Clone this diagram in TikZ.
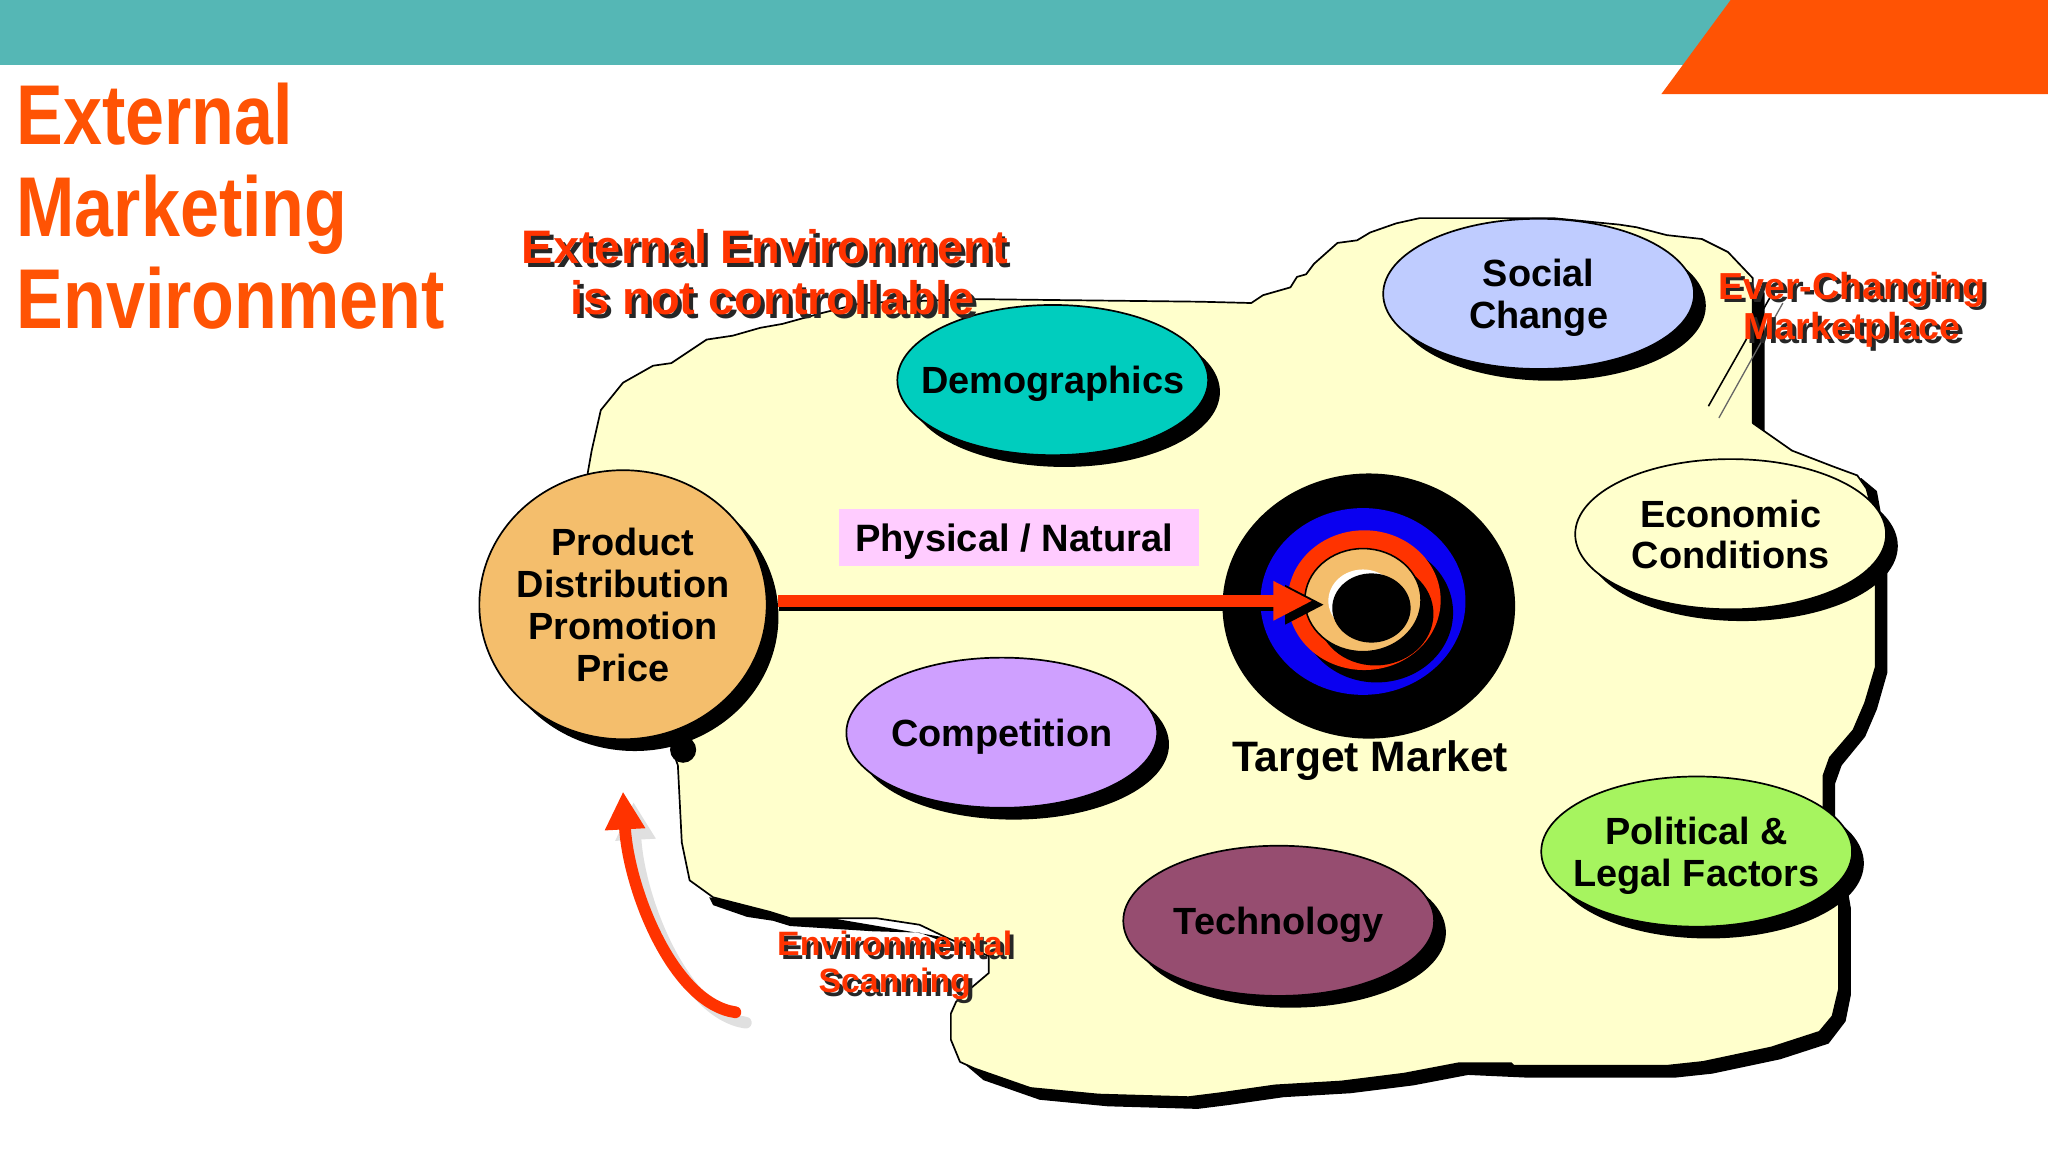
\documentclass[tikz,border=0pt]{standalone}
\usepackage{fontspec}
\setmainfont{Liberation Sans}
\newfontfamily\titlefont[FakeStretch=0.825]{Liberation Sans}
\usetikzlibrary{shapes.geometric,shadows,arrows.meta}
\definecolor{bandteal}{HTML}{55B7B5}
\definecolor{bandorange}{HTML}{FF5304}
\definecolor{blobyellow}{HTML}{FFFFCC}
\definecolor{labelred}{HTML}{FF3300}
\definecolor{mixtan}{HTML}{F4BE6C}
\definecolor{demoteal}{HTML}{00CDBE}
\definecolor{socialblue}{HTML}{BFCCFF}
\definecolor{complilac}{HTML}{CFA0FF}
\definecolor{techplum}{HTML}{964D70}
\definecolor{legalgreen}{HTML}{A6F45F}
\definecolor{naturalpink}{HTML}{FFCCFF}
\definecolor{ringblue}{HTML}{0A00F0}
\tikzset{
  topic/.style={ellipse,draw=black,line width=1.3pt,minimum width=238pt,minimum height=115pt,inner ysep=0pt,inner xsep=-20pt,align=center,text depth=0pt,
    font=\fontsize{29}{32}\selectfont\bfseries,general shadow={fill=black,shadow xshift=9pt,shadow yshift=-9pt}},
  ring/.style={ellipse,inner sep=0pt},
  redlabel/.style={align=center,inner sep=0pt,text=labelred,font=\bfseries},
  shadelabel/.style={redlabel,text=black!85},
  bigred/.style={font=\fontsize{36}{38.5}\selectfont\bfseries},
  midred/.style={font=\fontsize{28.8}{31}\selectfont\bfseries},
  smallred/.style={font=\fontsize{25.9}{28}\selectfont\bfseries},
  blackedge/.style={fill=black},
  aimline/.style={line width=9.5pt,-{Triangle[length=30pt,width=28pt]}},
  scanline/.style={line width=9pt,line cap=round,-{Triangle[length=29pt,width=29pt]}}
}
\begin{document}
\begin{tikzpicture}[x=1pt,y=-1pt]
\useasboundingbox (0,0) rectangle (1568,882);
\fill[bandteal]		(0,0) rectangle (1330,50);
\fill[bandorange]	(1325,0) -- (1568,0) -- (1568,72) -- (1272,72) -- cycle;
\node[anchor=north west,align=left,inner sep=0pt,text=bandorange,font=\titlefont\fontsize{65}{70.6}\selectfont\bfseries] (title) at (12.5,63) {External\\Marketing\\Environment};

\fill[blackedge]	(1342,222) -- (1351,224) -- (1351,333) -- (1342,333) -- cycle;
\fill[blackedge]	(543,687) -- (546,693) -- (572,702) -- (592,705) -- (605,709) -- (668,713) -- (704,714) -- (722,721) -- (725,718) -- cycle;
\fill[blackedge]	(1425,366) -- (1437,376) -- (1445,420) -- (1445,515) -- (1437,543) -- (1428,564) -- (1410,586) -- (1405,600) -- (1405,625) -- (1417,695) -- (1417,762) -- (1413,782) -- (1400,799) -- (1363,811) -- (1311,822) -- (1283,825) -- (1168,825) -- (1124,823) -- (1082,831) -- (1034,837) -- (983,840) -- (941,846) -- (917,849) -- (848,847) -- (796,842) -- (753,827) -- (740,816) -- cycle;
\draw[fill=blobyellow,line width=1.3pt,line join=round]
	(450,362) -- (453,345) -- (460,314) -- (477,293) -- (500,280) -- (514,278) -- (541,260) -- (561,257) -- (582,251) -- (599,248) -- (628,240) -- (660,232) -- (745,229) -- (919,231) -- (958,232) -- (967,226) -- (988,220) -- (993,212) -- (1000,210) -- (1006,202) -- (1024,186) -- (1039,184) -- (1049,178) -- (1069,171) -- (1087,167) -- (1189,167) -- (1240,172) -- (1253,174) -- (1276,180) -- (1303,183) -- (1323,193) -- (1342,213)
	-- (1342,324) -- (1372,345) -- (1403,357) -- (1422,364) -- (1429,374) -- (1436,400) -- (1436,511) -- (1428,538) -- (1419,559) -- (1401,580) -- (1396,594) -- (1396,618) -- (1408,650) -- (1408,757) -- (1403,778) -- (1393,790) -- (1356,802) -- (1304,813) -- (1276,816) -- (1159,816) -- (1157,814) -- (1117,814) -- (1075,822) -- (1027,828) -- (976,831) -- (934,837) -- (910,840) -- (841,838) -- (789,833) -- (746,818) -- (735,813) -- (728,796) -- (728,776) -- (732,767) -- (744,756) -- (757,745) -- (757,732) -- (725,718) -- (704,708) -- (671,703) -- (605,703) -- (589,698) -- (546,687) -- (528,674) -- (522,645) -- (519,586) -- (510,560) -- cycle;

\coordinate (hatchA) at (1308,311);
\coordinate (hatchB) at (1355,228);
\coordinate (hatchC) at (1316,320);
\coordinate (hatchD) at (1365,232);
\draw[line width=1.2pt]			(hatchA) -- (hatchB);
\draw[line width=1pt,black!60]		(hatchC) -- (hatchD);

\fill[black] (523,574) circle (10);

\node[topic,fill=mixtan,minimum width=220pt,minimum height=206pt]	(mix)	at (477,463)	{Product\\Distribution\\Promotion\\Price};
\node[topic,fill=demoteal]			(demo)	at (806,291)	{Demographics};
\node[topic,fill=socialblue]			(social) at (1178,225)	{Social\\Change};
\node[topic,fill=blobyellow]			(econ)	at (1325,409)	{Economic\\Conditions};
\node[topic,fill=complilac]			(comp)	at (767,561)	{Competition};
\node[topic,fill=techplum]			(tech)	at (979,705)	{Technology};
\node[topic,fill=legalgreen]			(legal)	at (1299,652)	{Political \&\\Legal Factors};
\node[fill=naturalpink,minimum width=276pt,minimum height=43pt,inner sep=0pt,text depth=0pt,font=\fontsize{29.2}{32}\selectfont\bfseries] (natural) at (780,411.5) {Physical / Natural\kern7pt};

\node[ring,fill=black,minimum width=224pt,minimum height=203pt]		(target)	at (1048,464)	{};
\node[ring,fill=ringblue,minimum width=157pt,minimum height=143pt]	(ringouter)	at (1043.5,460.5) {};
\node[ring,fill=black,minimum width=117pt,minimum height=107pt]		(ringdark)	at (1054,469)	{};
\node[ring,fill=labelred,minimum width=117pt,minimum height=107pt]	(ringred)	at (1044.5,459.5) {};
\node[ring,fill=black,minimum width=89pt,minimum height=79pt]		(ringedge)	at (1053,470)	{};
\node[ring,fill=mixtan,draw=black,line width=1.2pt,minimum width=89pt,minimum height=79pt] (ringtan) at (1043.5,459.5) {};
\node[ring,fill=white,minimum width=53pt,minimum height=48pt]		(ringwhite)	at (1043.5,460)	{};
\node[ring,fill=black,minimum width=60pt,minimum height=53pt]		(bullseye)	at (1050,465.5)	{};
\node[inner sep=0pt,font=\fontsize{32.6}{36}\selectfont\bfseries]	(targetlabel)	at (1049,582)	{Target Market};

\coordinate (aim) at (1005,460);
\coordinate (aimshade) at (1014,463);
\path[aimline]	(mix.east |- aimshade) edge[draw=black,shorten <=9pt]		(aimshade);
\path[aimline]	(mix.east |- aim)	edge[draw=labelred,shorten <=8pt]	(aim);

\coordinate (scantail) at (563,775);
\coordinate (scanhead) at (477,606);
\coordinate (scantailshade) at (571,783);
\coordinate (scanheadshade) at (485,614);
\draw[scanline,black!12]	(scantailshade) .. controls (523,776) and (489,688) .. (scanheadshade);
\draw[scanline,labelred]	(scantail) .. controls (515,768) and (481,680) .. (scanhead);

\node[shadelabel,bigred]	(extshade)	at (588.5,211.5) {External Environment\\\hspace*{12pt}is not controllable};
\node[redlabel,bigred]		(ext)		at (585.5,208.5) {External Environment\\\hspace*{12pt}is not controllable};
\node[shadelabel,midred]	(evershade)	at (1421,240)	{Ever-Changing\\Marketplace};
\node[redlabel,midred]		(ever)		at (1418,237)	{Ever-Changing\\Marketplace};
\node[shadelabel,smallred]	(scanshade)	at (688,742)	{Environmental\\Scanning};
\node[redlabel,smallred]	(scan)		at (685,739)	{Environmental\\Scanning};
\end{tikzpicture}
\end{document}
